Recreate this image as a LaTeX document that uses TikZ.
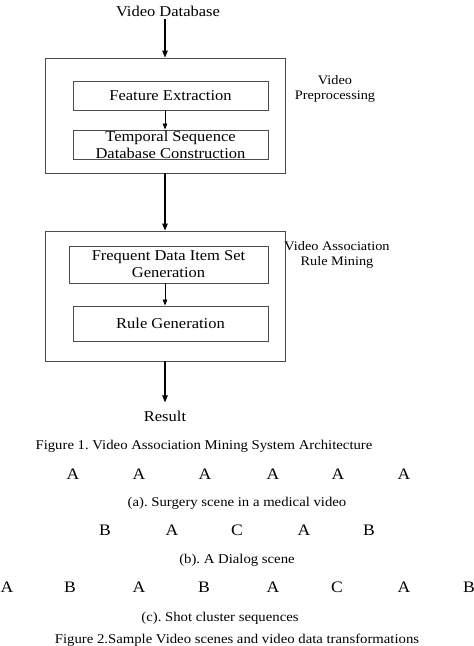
\documentclass[tikz,border=0pt]{standalone}
\usepackage{fontspec}
\setmainfont{Liberation Serif}[FakeStretch=1.1]
\usetikzlibrary{arrows.meta}
\frenchspacing
\begin{document}
\begin{tikzpicture}[x=1pt,y=-1pt,
  outer/.style={draw=black!70,line width=0.9pt,inner sep=0pt},
  inbox/.style={draw=black!70,line width=0.9pt,inner sep=0pt,align=center,font=\fontsize{15}{17}\selectfont},
  arr/.style={line width=1.1pt,-{Triangle[length=7pt,width=5.5pt]}},
  arrsmall/.style={line width=0.8pt,-{Triangle[length=6pt,width=4.5pt]}},
  lbl/.style={font=\fontsize{15}{17}\selectfont,inner sep=0pt,anchor=base},
  side/.style={font=\fontsize{13}{15}\selectfont,align=center,inner sep=0pt},
  captxt/.style={font=\fontsize{13.4}{15}\selectfont,inner sep=0pt,anchor=base},
  seq/.style={font=\fontsize{16}{18}\selectfont,inner sep=0pt,anchor=base}]
\useasboundingbox (0,0) rectangle (474,646);
\clip (0,0) rectangle (474,646);
% Figure 1
\node[lbl] (vdb) at (168,16) {Video Database};
\node[outer,minimum width=240pt,minimum height=115pt] (o1) at (165,115.5) {};
\node[inbox,minimum width=195pt,minimum height=29pt] (fe) at (170.5,95.5) {Feature Extraction};
\node[inbox,minimum width=195pt,minimum height=29pt] (tsd) at (170.5,144.5) {Temporal Sequence\\Database Construction};
\node[side] (vp) at (335,88.5) {Video\\Preprocessing};
\node[outer,minimum width=240pt,minimum height=130pt] (o2) at (165,296) {};
\node[inbox,minimum width=199pt,minimum height=37pt] (fdi) at (168.5,264.5) {Frequent Data Item Set\\Generation};
\node[inbox,minimum width=195pt,minimum height=35pt] (rg) at (170.5,323.5) {Rule Generation};
\node[side] (varm) at (337,255) {Video Association\\Rule Mining};
\node[lbl] (res) at (165,421) {Result};
\draw[arr] ([yshift=-3pt]vdb.south -| o1.north) -- (o1.north);
\draw[arrsmall] (o1.center |- fe.south) -- (o1.center |- tsd.north);
\draw[arr] (o1.south) -- (o2.north);
\draw[arrsmall] (o1.center |- fdi.south) -- (o1.center |- rg.north);
\draw[arr] (o2.south) -- ([yshift=8pt]res.north);
\node[captxt] (f1) at (204,449.5) {Figure 1. Video Association Mining System Architecture};
% Figure 2
\node[seq] (a1) at (73,479) {A};
\node[seq] (a2) at (139,479) {A};
\node[seq] (a3) at (205,479) {A};
\node[seq] (a4) at (273,479) {A};
\node[seq] (a5) at (338,479) {A};
\node[seq] (a6) at (404,479) {A};
\node[captxt] (capa) at (237,506) {(a). Surgery scene in a medical video};
\node[seq] (b1) at (105,535) {B};
\node[seq] (b2) at (172,535) {A};
\node[seq] (b3) at (237,535) {C};
\node[seq] (b4) at (304,535) {A};
\node[seq] (b5) at (369,535) {B};
\node[captxt] (capb) at (237,563) {(b). A Dialog scene};
\node[seq] (c1) at (7,592) {A};
\node[seq] (c2) at (70,592) {B};
\node[seq] (c3) at (139,592) {A};
\node[seq] (c4) at (204,592) {B};
\node[seq] (c5) at (273,592) {A};
\node[seq] (c6) at (337,592) {C};
\node[seq] (c7) at (404,592) {A};
\node[seq] (c8) at (469,592) {B};
\node[captxt] (capc) at (220,621) {(c). Shot cluster sequences};
\node[captxt] (f2) at (237,643) {Figure 2.Sample Video scenes and video data transformations};
\end{tikzpicture}
\end{document}
